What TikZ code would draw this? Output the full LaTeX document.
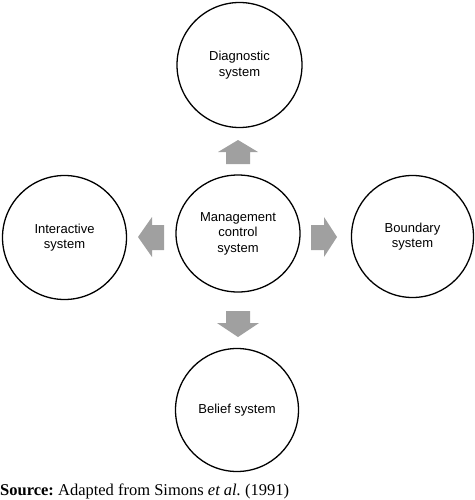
\documentclass[tikz,border=0pt]{standalone}
\usepackage{fontspec}
\setmainfont{Liberation Serif}
\newfontfamily\arialf{Liberation Sans}
\begin{document}
\frenchspacing
\begin{tikzpicture}[x=1pt,y=-1pt,
  sys/.style={draw=black,line width=1.3pt,circle,inner sep=0pt},
  lbl/.style={font=\arialf\fontsize{13}{15.5}\selectfont,align=center,inner sep=0pt}]
\definecolor{arrowgray}{RGB}{160,160,160}
\useasboundingbox (0,0) rectangle (474,500);
% circles
\node[sys,minimum size=125pt] (diag) at (239.5,65) {};
\node[sys,minimum size=124pt] (inter) at (64.5,237.5) {};
\node[sys,minimum size=122pt] (bound) at (412.5,236.5) {};
\node[sys,minimum size=123pt] (belief) at (237,410) {};
\draw[line width=1.3pt] (238,233.5) ellipse [x radius=62pt, y radius=58.5pt];
\coordinate (mcs) at (238,233.5);
% labels
\node[lbl] (tdiag) at (diag) {Diagnostic\\system};
\node[lbl] (tinter) at (inter) {Interactive\\system};
\node[lbl] (tbound) at (bound) {Boundary\\system};
\node[lbl] (tbelief) at (belief) {Belief system};
\node[lbl] (tmcs) at (mcs) {Management\\control\\system};
% arrows
\fill[arrowgray] (226,164) -- (226,152) -- (218,152) -- (238,140) -- (258,152) -- (250,152) -- (250,164) -- cycle;
\fill[arrowgray] (226,311) -- (226,323) -- (217,323) -- (238,337) -- (259,323) -- (250,323) -- (250,311) -- cycle;
\fill[arrowgray] (164,225) -- (152,225) -- (152,217) -- (138,237) -- (152,257) -- (152,250) -- (164,250) -- cycle;
\fill[arrowgray] (311,225) -- (324,225) -- (324,217) -- (337,237) -- (324,257) -- (324,250) -- (311,250) -- cycle;
% source
\node[anchor=base west,inner sep=0pt,font=\fontsize{16.5}{18}\selectfont] (src) at (0,495) {\textbf{Source:} Adapted from Simons \textit{et al.} (1991)};
\end{tikzpicture}
\end{document}
